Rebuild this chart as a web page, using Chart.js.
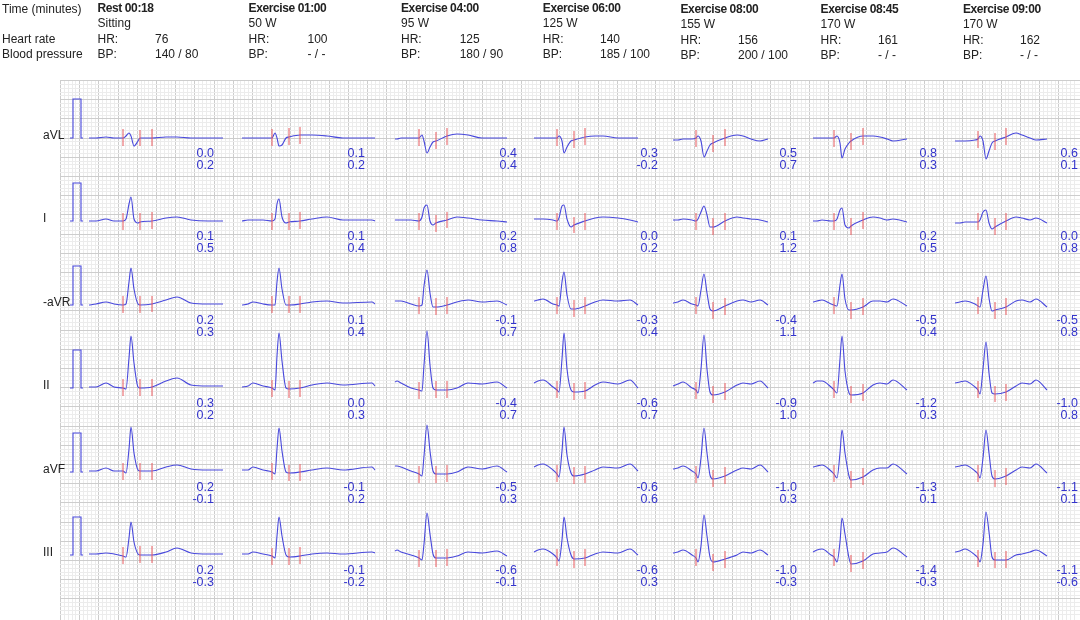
<!DOCTYPE html>
<html>
<head>
<meta charset="utf-8">
<script src="https://cdn.jsdelivr.net/npm/chart.js@4.4.1/dist/chart.umd.min.js"></script>
<style>
html, body { margin: 0; padding: 0; background: #fff; }
#wrap { position: relative; width: 1080px; height: 620px; overflow: hidden;
        font-family: "Liberation Sans", Arial, sans-serif; color: #222; }
#ecg { position: absolute; left: 0; top: 0; }
.t { position: absolute; font-size: 12px; line-height: 14px; white-space: nowrap; }
.b { font-weight: bold; letter-spacing: -0.4px; }
.n { position: absolute; font-size: 12.5px; line-height: 14px; color: #3434cc; white-space: nowrap; }
</style>
</head>
<body>
<div id="wrap"><canvas id="ecg" width="1080" height="620"></canvas></div>
<script>
// ── Data ──
const leads         = ['aVL', 'I', '-aVR', 'II', 'aVF', 'III'];
const stages        = ['Rest 00:18', 'Exercise 01:00', 'Exercise 04:00', 'Exercise 06:00', 'Exercise 08:00', 'Exercise 08:45', 'Exercise 09:00'];
const loads         = ['Sitting', '50 W', '95 W', '125 W', '155 W', '170 W', '170 W'];
const heartRates    = [76, 100, 125, 140, 156, 161, 162];
const bloodPressure = ['140 / 80', '- / -', '180 / 90', '185 / 100', '200 / 100', '- / -', '- / -'];

// ST level (mm) and ST slope per lead (rows) and stage (columns)
const stLevel = [
  [0.0, 0.1, 0.4, 0.3, 0.5, 0.8, 0.6],
  [0.1, 0.1, 0.2, 0.0, 0.1, 0.2, 0.0],
  [0.2, 0.1, -0.1, -0.3, -0.4, -0.5, -0.5],
  [0.3, 0.0, -0.4, -0.6, -0.9, -1.2, -1.0],
  [0.2, -0.1, -0.5, -0.6, -1.0, -1.3, -1.1],
  [0.2, -0.1, -0.6, -0.6, -1.0, -1.4, -1.1]
];
const stSlope = [
  [0.2, 0.2, 0.4, -0.2, 0.7, 0.3, 0.1],
  [0.5, 0.4, 0.8, 0.2, 1.2, 0.5, 0.8],
  [0.3, 0.4, 0.7, 0.4, 1.1, 0.4, 0.8],
  [0.2, 0.3, 0.7, 0.7, 1.0, 0.3, 0.8],
  [-0.1, 0.2, 0.3, 0.6, 0.3, 0.1, 0.1],
  [-0.3, -0.2, -0.1, 0.3, -0.3, -0.3, -0.6]
];

// sample times of each averaged beat (ms from QRS onset), one row per stage
const beatTimes = [
  [-177, -140, -88, -50, 0, 15, 28, 38, 55, 75, 88, 148, 220, 278, 350, 440, 521],
  [-156, -125, -97, -45, 0, 15, 28, 38, 55, 75, 88, 148, 210, 286, 372, 520, 538],
  [-125, -115, -95, -40, 0, 15, 28, 43, 58, 75, 88, 148, 200, 257, 330, 404, 460],
  [-118, -95, -70, -20, 0, 12, 28, 38, 55, 75, 90, 149, 200, 241, 320, 382, 425],
  [-122, -95, -68, -20, 0, 12, 28, 42, 58, 75, 87, 148, 215, 245, 285, 333, 376],
  [-113, -90, -66, -15, 0, 12, 28, 38, 55, 75, 87, 148, 202, 238, 274, 307, 377],
  [-120, -95, -68, -15, 0, 12, 28, 42, 58, 75, 88, 148, 197, 228, 271, 302, 361]
];
// index of QRS onset, J point and J+60 ms in beatTimes
const markIdx = [4, 10, 11];

// amplitudes (mV) at beatTimes, per stage
const waveAVL = [
  [0, 0, 0.02, 0, 0, 0.05, 0.13, 0.05, -0.22, -0.1, -0.01, 0, 0.01, 0.02, 0, 0, 0],
  [-0.02, -0.02, -0.02, -0.02, 0, 0.12, 0, -0.22, -0.2, -0.02, 0.02, 0.06, 0.06, 0.05, 0, -0.02, -0.02],
  [-0.03, -0.03, -0.02, -0.02, 0, 0.08, -0.1, -0.4, -0.25, -0.12, -0.08, 0.03, 0.09, 0.06, 0, -0.02, -0.02],
  [-0.02, -0.02, -0.01, -0.01, 0, 0.05, -0.1, -0.4, -0.25, -0.1, -0.06, 0.02, 0.05, 0.03, 0, 0, 0],
  [-0.06, -0.05, -0.04, -0.03, -0.02, 0.04, -0.1, -0.5, -0.35, -0.2, -0.15, 0, 0.06, 0.03, -0.03, -0.1, -0.04],
  [-0.02, -0.02, -0.02, -0.02, -0.02, 0.04, -0.15, -0.54, -0.3, -0.15, -0.1, 0.03, 0.05, 0.02, -0.04, -0.1, -0.04],
  [-0.1, -0.1, -0.08, -0.05, -0.04, 0.04, -0.1, -0.57, -0.35, -0.15, -0.1, 0.02, 0.11, 0.06, 0, -0.06, -0.04]
];
const waveI = [
  [0, 0.01, 0.05, 0.01, 0, 0.05, 0.45, 0.63, 0.05, -0.05, -0.02, 0.01, 0.08, 0.12, 0.03, 0.01, 0.01],
  [0, 0.02, 0.04, 0.02, 0, 0.06, 0.45, 0.58, 0.1, -0.04, -0.02, 0.01, 0.05, 0.1, 0.04, 0.02, 0],
  [0.03, 0.03, 0.04, 0.02, 0, 0.1, 0.35, 0.42, 0, -0.1, -0.06, 0.03, 0.1, 0.07, 0.03, 0, -0.01],
  [0.05, 0.05, 0.06, 0.02, 0, 0.08, 0.4, 0.42, 0.05, -0.15, -0.1, 0, 0.08, 0.1, 0.08, 0.03, -0.01],
  [0.02, 0.03, 0.05, 0.02, 0, 0.05, 0.25, 0.4, 0.15, -0.15, -0.15, 0, 0.1, 0.08, 0.05, 0.03, -0.01],
  [0, 0.01, 0.04, 0.01, 0, 0.05, 0.3, 0.34, -0.1, -0.18, -0.13, 0.02, 0.1, 0.07, 0.03, 0.06, -0.01],
  [-0.05, -0.04, -0.02, -0.02, -0.02, 0.04, 0.25, 0.3, -0.05, -0.2, -0.15, 0, 0.12, 0.07, 0.03, 0.07, -0.06]
];
const waveNegAVR = [
  [0, 0.01, 0.08, 0.01, 0, 0.02, 0.6, 0.95, 0.4, 0.02, 0, 0.02, 0.12, 0.2, 0.04, 0.02, 0.02],
  [0, 0.03, 0.07, 0.03, 0, -0.02, 0.6, 0.95, 0.4, 0, 0, 0.01, 0.06, 0.1, 0.05, 0.06, 0.03],
  [0.1, 0.1, 0.1, 0.02, -0.03, 0, 0.5, 0.9, 0.3, -0.05, -0.05, -0.01, 0.06, 0.11, 0.06, 0.09, 0],
  [0.1, 0.12, 0.14, 0.03, -0.02, -0.03, 0.58, 0.85, 0.25, -0.1, -0.1, -0.03, 0.08, 0.13, 0.1, 0.12, 0],
  [0.04, 0.06, 0.11, 0.02, -0.02, -0.04, 0.38, 0.8, 0.3, -0.12, -0.16, -0.04, 0.09, 0.11, 0.08, 0.11, 0],
  [0.07, 0.1, 0.12, 0.02, -0.02, -0.04, 0.52, 0.8, 0.15, -0.15, -0.15, -0.05, 0.09, 0.1, 0.07, 0.14, -0.03],
  [0.04, 0.06, 0.09, 0.01, -0.03, -0.05, 0.38, 0.75, 0.18, -0.16, -0.15, -0.05, 0.1, 0.11, 0.08, 0.14, -0.05]
];
const waveII = [
  [0.04, 0.04, 0.13, 0.04, 0.01, -0.02, 0.8, 1.36, 0.65, 0.04, 0.02, 0.03, 0.19, 0.28, 0.09, 0.07, 0.06],
  [0.04, 0.07, 0.15, 0.06, 0, -0.05, 0.85, 1.45, 0.7, 0, -0.03, 0, 0.08, 0.15, 0.08, 0.13, 0.07],
  [0.17, 0.18, 0.15, 0.02, -0.05, -0.08, 0.6, 1.5, 0.6, 0, -0.04, -0.04, 0.02, 0.15, 0.1, 0.17, 0],
  [0.15, 0.2, 0.22, 0.04, -0.04, -0.11, 0.75, 1.45, 0.5, -0.05, -0.09, -0.06, 0.09, 0.16, 0.12, 0.22, 0.02],
  [0.06, 0.1, 0.17, 0.02, -0.05, -0.13, 0.5, 1.4, 0.5, -0.1, -0.17, -0.09, 0.08, 0.14, 0.1, 0.2, 0],
  [0.15, 0.18, 0.2, 0.03, -0.04, -0.13, 0.75, 1.36, 0.45, -0.12, -0.17, -0.12, 0.09, 0.13, 0.11, 0.22, -0.05],
  [0.13, 0.16, 0.2, 0.03, -0.04, -0.14, 0.5, 1.2, 0.4, -0.12, -0.15, -0.1, 0.07, 0.15, 0.12, 0.22, -0.04]
];
const waveAVF = [
  [0.03, 0.03, 0.1, 0.03, 0.01, -0.02, 0.6, 1.17, 0.5, 0.04, 0.02, 0.02, 0.12, 0.18, 0.07, 0.05, 0.05],
  [0.04, 0.06, 0.13, 0.05, 0, -0.06, 0.6, 1.15, 0.55, 0, -0.03, -0.01, 0.05, 0.1, 0.06, 0.12, 0.06],
  [0.15, 0.16, 0.13, 0.02, -0.06, -0.1, 0.4, 1.22, 0.55, 0.02, -0.06, -0.05, 0, 0.12, 0.08, 0.16, 0],
  [0.13, 0.18, 0.2, 0.04, -0.05, -0.13, 0.55, 1.17, 0.45, -0.03, -0.1, -0.06, 0.06, 0.13, 0.1, 0.2, 0.02],
  [0.07, 0.1, 0.16, 0.02, -0.06, -0.15, 0.35, 1.15, 0.5, -0.08, -0.18, -0.1, 0.05, 0.11, 0.08, 0.18, 0],
  [0.12, 0.15, 0.18, 0.03, -0.05, -0.15, 0.5, 1.1, 0.5, -0.1, -0.2, -0.13, 0.06, 0.1, 0.09, 0.2, -0.05],
  [0.12, 0.15, 0.19, 0.03, -0.05, -0.15, 0.35, 1.1, 0.5, -0.1, -0.18, -0.11, 0.04, 0.12, 0.1, 0.2, -0.04]
];
const waveIII = [
  [0.03, 0.03, 0.06, 0.03, -0.01, -0.04, 0.45, 0.87, 0.35, 0.03, 0.02, 0.02, 0.1, 0.18, 0.05, 0.03, 0.03],
  [0.03, 0.04, 0.08, 0.03, -0.02, -0.06, 0.5, 1.0, 0.5, 0, -0.03, -0.01, 0.03, 0.06, 0.04, 0.1, 0.05],
  [0.12, 0.13, 0.1, 0.01, -0.07, -0.12, 0.3, 1.1, 0.55, 0.03, -0.07, -0.06, -0.02, 0.08, 0.06, 0.12, -0.02],
  [0.1, 0.14, 0.16, 0.03, -0.06, -0.15, 0.4, 1.0, 0.45, 0, -0.1, -0.06, 0.03, 0.08, 0.07, 0.16, 0],
  [0.06, 0.09, 0.13, 0.02, -0.06, -0.16, 0.25, 1.05, 0.5, -0.05, -0.18, -0.1, 0.02, 0.08, 0.06, 0.15, 0],
  [0.1, 0.13, 0.16, 0.02, -0.05, -0.16, 0.35, 0.97, 0.55, -0.08, -0.22, -0.14, 0.03, 0.07, 0.08, 0.18, -0.05],
  [0.08, 0.12, 0.17, 0.02, -0.08, -0.16, 0.3, 1.13, 0.6, -0.05, -0.12, -0.11, 0, 0.03, 0.08, 0.14, -0.02]
];

// 1 mV calibration pulse
const calTimes = [52, 69, 69, 111, 111, 122];
const calVolts = [0, 0, 1, 1, 0, 0];

// ── Layout (paper at 50 mm/s, 10 mm/mV, 3.84 px/mm) ──
const PAPER_MS  = 5312.5;     // grid width in ms
const PAPER_MV  = 14.0625;    // grid height in mV
const ROW_TOP   = 1.5;        // first baseline below grid top, mV
const ROW_GAP   = 2.176;      // baseline spacing, mV
const colOnset  = [330, 1103, 1870, 2587, 3313, 4033, 4781];   // QRS onset per stage, ms
const numRight  = [802, 1589, 2380, 3115, 3839, 4568, 5302];   // right edge of ST numbers, ms
const headX     = [97.5, 248.6, 401, 542.8, 680.5, 820.6, 962.9];
const valueX    = [155, 307.5, 459.7, 600, 738, 878, 1020];

const TRACE  = '#4848dc';
const MARK   = '#e8585c';
const MINOR  = '#ececec';
const MAJOR  = '#cdcdcd';

const waves = [waveAVL, waveI, waveNegAVR, waveII, waveAVF, waveIII];
const rowBase = r => -ROW_TOP - r * ROW_GAP;

// ── Datasets ──
const markerPts = [];
const traceSets = [];
leads.forEach((lead, r) => {
  const y0 = rowBase(r);
  traceSets.push({
    data: calTimes.map((t, i) => ({ x: t, y: y0 + calVolts[i] })),
    borderColor: TRACE, borderWidth: 1.1, tension: 0
  });
  beatTimes.forEach((times, c) => {
    traceSets.push({
      data: times.map((t, i) => ({ x: colOnset[c] + t, y: y0 + waves[r][c][i] })),
      borderColor: TRACE, borderWidth: 1.1, cubicInterpolationMode: 'monotone'
    });
    markIdx.forEach(k => {
      const x = colOnset[c] + times[k];
      const v = y0 + waves[r][c][k];
      markerPts.push({ x, y: v - 0.22 }, { x, y: v + 0.22 }, { x, y: null });
    });
  });
});

const datasets = [{ data: markerPts, borderColor: MARK, borderWidth: 1, tension: 0, spanGaps: false }]
  .concat(traceSets)
  .map(d => Object.assign({ pointRadius: 0, fill: false }, d));

const gridColor = (ctx, unit) => {
  if (!ctx.tick) return MINOR;
  const k = Math.round(ctx.tick.value / unit);
  return (k % 5 === 0) ? MAJOR : MINOR;
};

const chart = new Chart(document.getElementById('ecg'), {
  type: 'line',
  data: { datasets },
  options: {
    responsive: false,
    animation: false,
    events: [],
    layout: { padding: { left: 60, top: 80, right: 0, bottom: 0 } },
    plugins: { legend: { display: false }, tooltip: { enabled: false } },
    scales: {
      x: {
        type: 'linear', min: 0, max: PAPER_MS, alignToPixels: true,
        ticks: { display: false, stepSize: 20, maxTicksLimit: 1000, autoSkip: false },
        grid: { color: ctx => gridColor(ctx, 20), lineWidth: 1, drawTicks: false },
        border: { display: false }
      },
      y: {
        type: 'linear', min: -PAPER_MV, max: 0, alignToPixels: true,
        ticks: { display: false, stepSize: 0.1, maxTicksLimit: 1000, autoSkip: false },
        grid: { color: ctx => gridColor(ctx, 0.1), lineWidth: 1, drawTicks: false },
        border: { display: false }
      }
    }
  }
});

// ── Text ──
const wrap = document.getElementById('wrap');
function addText(cls, text, left, top) {
  const d = document.createElement('div');
  d.className = cls;
  d.textContent = text;
  d.style.left = left + 'px';
  d.style.top = top + 'px';
  wrap.appendChild(d);
  return d;
}
function addNum(text, right, cy) {
  const d = document.createElement('div');
  d.className = 'n';
  d.textContent = text;
  d.style.right = (1080 - right) + 'px';
  d.style.top = (cy - 7) + 'px';
  wrap.appendChild(d);
}

addText('t', 'Time (minutes)', 2, 2);
addText('t', 'Heart rate', 2, 31.5);
addText('t', 'Blood pressure', 2, 46.5);
stages.forEach((s, c) => {
  const dy = c > 3 ? 1 : 0;
  addText('t b', s, headX[c], 0.5 + dy);
  addText('t', loads[c], headX[c], 16 + dy);
  addText('t', 'HR:', headX[c], 31.5 + dy);
  addText('t', String(heartRates[c]), valueX[c], 31.5 + dy);
  addText('t', 'BP:', headX[c], 46.5 + dy);
  addText('t', bloodPressure[c], valueX[c], 46.5 + dy);
});

const xs = chart.scales.x, ys = chart.scales.y;
leads.forEach((lead, r) => {
  const yb = ys.getPixelForValue(rowBase(r));
  addText('t', lead, 43, yb - 9.7);
  for (let c = 0; c < stages.length; c++) {
    const xr = xs.getPixelForValue(numRight[c]);
    addNum(stLevel[r][c].toFixed(1), xr, yb + 14.8);
    addNum(stSlope[r][c].toFixed(1), xr, yb + 26.6);
  }
});
</script>
</body>
</html>
